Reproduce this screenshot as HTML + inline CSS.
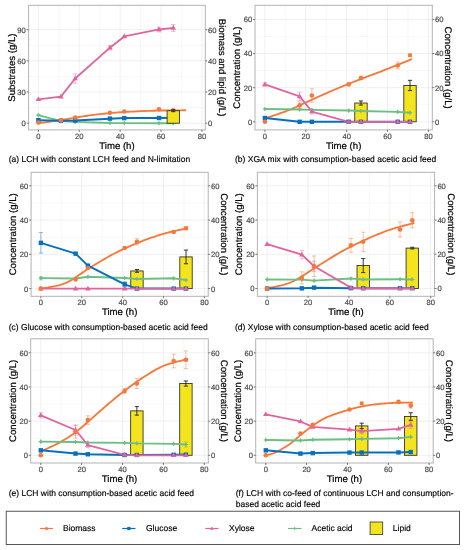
<!DOCTYPE html><html><head><meta charset="utf-8"><style>html,body{margin:0;padding:0;background:#fff;width:465px;height:550px;overflow:hidden}svg{display:block;filter:blur(0.35px)}</style></head><body><svg width="465" height="550" viewBox="0 0 465 550">
<style>text{font-family:"Liberation Sans",sans-serif;text-rendering:geometricPrecision}.tk{font-size:7.6px;fill:#4D4D4D;stroke:#4D4D4D;stroke-width:0.2px}.ti{font-size:9.6px;fill:#000;stroke:#000;stroke-width:0.2px}.cp{font-size:8.5px;fill:#000;stroke:#000;stroke-width:0.15px}</style>
<rect width="465" height="550" fill="#fff"/>
<clipPath id="ca"><rect x="28.6" y="5.3" width="176.70000000000002" height="124.60000000000001"/></clipPath>
<line x1="58.84" y1="5.3" x2="58.84" y2="129.9" stroke="#F0F0F0" stroke-width="0.5"/>
<line x1="99.71" y1="5.3" x2="99.71" y2="129.9" stroke="#F0F0F0" stroke-width="0.5"/>
<line x1="140.59" y1="5.3" x2="140.59" y2="129.9" stroke="#F0F0F0" stroke-width="0.5"/>
<line x1="181.46" y1="5.3" x2="181.46" y2="129.9" stroke="#F0F0F0" stroke-width="0.5"/>
<line x1="28.6" y1="107.62" x2="205.3" y2="107.62" stroke="#F0F0F0" stroke-width="0.5"/>
<line x1="28.6" y1="76.45" x2="205.3" y2="76.45" stroke="#F0F0F0" stroke-width="0.5"/>
<line x1="28.6" y1="45.28" x2="205.3" y2="45.28" stroke="#F0F0F0" stroke-width="0.5"/>
<line x1="38.40" y1="5.3" x2="38.40" y2="129.9" stroke="#E6E6E6" stroke-width="0.6"/>
<line x1="79.28" y1="5.3" x2="79.28" y2="129.9" stroke="#E6E6E6" stroke-width="0.6"/>
<line x1="120.15" y1="5.3" x2="120.15" y2="129.9" stroke="#E6E6E6" stroke-width="0.6"/>
<line x1="161.03" y1="5.3" x2="161.03" y2="129.9" stroke="#E6E6E6" stroke-width="0.6"/>
<line x1="201.90" y1="5.3" x2="201.90" y2="129.9" stroke="#E6E6E6" stroke-width="0.6"/>
<line x1="28.6" y1="123.20" x2="205.3" y2="123.20" stroke="#E6E6E6" stroke-width="0.6"/>
<line x1="28.6" y1="92.03" x2="205.3" y2="92.03" stroke="#E6E6E6" stroke-width="0.6"/>
<line x1="28.6" y1="60.87" x2="205.3" y2="60.87" stroke="#E6E6E6" stroke-width="0.6"/>
<line x1="28.6" y1="29.70" x2="205.3" y2="29.70" stroke="#E6E6E6" stroke-width="0.6"/>
<g clip-path="url(#ca)">
<polyline fill="none" stroke="#F7783A" stroke-width="1.85" stroke-linejoin="round" points="38.40,123.20 39.59,123.04 41.07,122.83 42.81,122.60 44.76,122.33 46.88,122.05 49.13,121.74 51.46,121.42 53.84,121.09 56.22,120.75 58.55,120.42 60.80,120.09 62.92,119.77 64.97,119.45 67.01,119.12 69.06,118.77 71.10,118.42 73.14,118.06 75.19,117.71 77.23,117.35 79.27,117.00 81.32,116.66 83.36,116.33 85.41,116.02 87.45,115.72 89.49,115.44 91.54,115.17 93.58,114.90 95.62,114.65 97.67,114.40 99.71,114.16 101.76,113.93 103.80,113.71 105.84,113.50 107.89,113.30 109.93,113.10 111.97,112.92 114.02,112.74 116.06,112.57 118.11,112.42 120.15,112.27 122.19,112.14 124.24,112.01 126.28,111.89 128.32,111.77 130.37,111.66 132.41,111.56 134.46,111.46 136.50,111.36 138.54,111.26 140.58,111.18 142.62,111.10 144.65,111.02 146.69,110.95 148.72,110.89 150.76,110.83 152.80,110.77 154.85,110.72 156.90,110.67 158.96,110.62 161.03,110.58 163.18,110.53 165.47,110.49 167.86,110.46 170.29,110.43 172.73,110.40 175.13,110.37 177.44,110.35 179.62,110.33 181.63,110.31 183.42,110.29 184.95,110.28 186.16,110.27"/>
<polyline fill="none" stroke="#6DBE82" stroke-width="1.9" stroke-linejoin="round" points="38.40,115.10 60.88,121.12 75.19,121.85 109.93,122.99 124.24,123.10 158.98,123.20 173.29,123.20"/>
<polyline fill="none" stroke="#0670BE" stroke-width="2.0" stroke-linejoin="round" points="38.40,120.19 60.88,120.81 75.19,120.50 109.93,118.63 124.24,118.11 158.98,118.01 173.29,117.80"/>
<polyline fill="none" stroke="#E2649F" stroke-width="1.8" stroke-linejoin="round" points="38.40,99.31 60.88,96.60 75.19,78.53 109.93,47.67 124.24,36.45 158.98,29.49 173.29,27.93"/>
<path d="M73.09,83.20H77.29M73.09,73.85H77.29M75.19,83.20V73.85" stroke="#E2649F" stroke-opacity="0.5" stroke-width="0.9" fill="none"/>
<path d="M107.83,50.01H112.03M107.83,45.34H112.03M109.93,50.01V45.34" stroke="#E2649F" stroke-opacity="0.5" stroke-width="0.9" fill="none"/>
<path d="M156.88,31.83H161.08M156.88,27.15H161.08M158.98,31.83V27.15" stroke="#E2649F" stroke-opacity="0.5" stroke-width="0.9" fill="none"/>
<path d="M171.19,31.36H175.39M171.19,24.51H175.39M173.29,31.36V24.51" stroke="#E2649F" stroke-opacity="0.5" stroke-width="0.9" fill="none"/>
<path d="M36.30,115.10H40.50M38.40,113.00V117.20" stroke="#6DBE82" stroke-width="1.1"/><circle cx="38.40" cy="115.10" r="1.3" fill="#6DBE82"/>
<path d="M58.78,121.12H62.98M60.88,119.02V123.22" stroke="#6DBE82" stroke-width="1.1"/><circle cx="60.88" cy="121.12" r="1.3" fill="#6DBE82"/>
<path d="M73.09,121.85H77.29M75.19,119.75V123.95" stroke="#6DBE82" stroke-width="1.1"/><circle cx="75.19" cy="121.85" r="1.3" fill="#6DBE82"/>
<path d="M107.83,122.99H112.03M109.93,120.89V125.09" stroke="#6DBE82" stroke-width="1.1"/><circle cx="109.93" cy="122.99" r="1.3" fill="#6DBE82"/>
<path d="M122.14,123.10H126.34M124.24,121.00V125.20" stroke="#6DBE82" stroke-width="1.1"/><circle cx="124.24" cy="123.10" r="1.3" fill="#6DBE82"/>
<path d="M156.88,123.20H161.08M158.98,121.10V125.30" stroke="#6DBE82" stroke-width="1.1"/><circle cx="158.98" cy="123.20" r="1.3" fill="#6DBE82"/>
<path d="M171.19,123.20H175.39M173.29,121.10V125.30" stroke="#6DBE82" stroke-width="1.1"/><circle cx="173.29" cy="123.20" r="1.3" fill="#6DBE82"/>
<rect x="36.20" y="117.99" width="4.4" height="4.4" fill="#0670BE"/>
<rect x="58.68" y="118.61" width="4.4" height="4.4" fill="#0670BE"/>
<rect x="72.99" y="118.30" width="4.4" height="4.4" fill="#0670BE"/>
<rect x="107.73" y="116.43" width="4.4" height="4.4" fill="#0670BE"/>
<rect x="122.04" y="115.91" width="4.4" height="4.4" fill="#0670BE"/>
<rect x="156.78" y="115.81" width="4.4" height="4.4" fill="#0670BE"/>
<rect x="171.09" y="115.60" width="4.4" height="4.4" fill="#0670BE"/>
<path d="M38.40,96.41L41.20,101.11L35.60,101.11Z" fill="#E2649F"/>
<path d="M60.88,93.70L63.68,98.40L58.08,98.40Z" fill="#E2649F"/>
<path d="M75.19,75.63L77.99,80.33L72.39,80.33Z" fill="#E2649F"/>
<path d="M109.93,44.77L112.73,49.47L107.13,49.47Z" fill="#E2649F"/>
<path d="M124.24,33.55L127.04,38.25L121.44,38.25Z" fill="#E2649F"/>
<path d="M158.98,26.59L161.78,31.29L156.18,31.29Z" fill="#E2649F"/>
<path d="M173.29,25.03L176.09,29.73L170.49,29.73Z" fill="#E2649F"/>
<circle cx="38.40" cy="122.58" r="2.3" fill="#F7783A"/>
<circle cx="60.88" cy="120.39" r="2.3" fill="#F7783A"/>
<circle cx="75.19" cy="117.59" r="2.3" fill="#F7783A"/>
<circle cx="109.93" cy="112.76" r="2.3" fill="#F7783A"/>
<circle cx="124.24" cy="111.51" r="2.3" fill="#F7783A"/>
<circle cx="158.98" cy="109.33" r="2.3" fill="#F7783A"/>
<circle cx="173.29" cy="110.27" r="2.3" fill="#F7783A"/>
<rect x="167.09" y="110.73" width="12.4" height="12.47" fill="#F4E41E" stroke="#2a2a2a" stroke-width="0.85"/>
<path d="M171.19,111.67H175.39M171.19,109.80H175.39M173.29,111.67V109.80" stroke="#222" stroke-width="0.9" fill="none"/>
</g>
<rect x="28.6" y="5.3" width="176.70000000000002" height="124.60000000000001" fill="none" stroke="#B3B3B3" stroke-width="1"/>
<line x1="38.40" y1="129.9" x2="38.40" y2="131.9" stroke="#555" stroke-width="0.8"/>
<text x="38.40" y="138.70" class="tk" text-anchor="middle">0</text>
<line x1="79.28" y1="129.9" x2="79.28" y2="131.9" stroke="#555" stroke-width="0.8"/>
<text x="79.28" y="138.70" class="tk" text-anchor="middle">20</text>
<line x1="120.15" y1="129.9" x2="120.15" y2="131.9" stroke="#555" stroke-width="0.8"/>
<text x="120.15" y="138.70" class="tk" text-anchor="middle">40</text>
<line x1="161.03" y1="129.9" x2="161.03" y2="131.9" stroke="#555" stroke-width="0.8"/>
<text x="161.03" y="138.70" class="tk" text-anchor="middle">60</text>
<line x1="201.90" y1="129.9" x2="201.90" y2="131.9" stroke="#555" stroke-width="0.8"/>
<text x="201.90" y="138.70" class="tk" text-anchor="middle">80</text>
<line x1="26.6" y1="123.20" x2="28.6" y2="123.20" stroke="#555" stroke-width="0.8"/>
<line x1="205.3" y1="123.20" x2="207.3" y2="123.20" stroke="#555" stroke-width="0.8"/>
<text x="25.80" y="126.10" class="tk" text-anchor="end">0</text>
<text x="208.10" y="126.10" class="tk">0</text>
<line x1="26.6" y1="92.03" x2="28.6" y2="92.03" stroke="#555" stroke-width="0.8"/>
<line x1="205.3" y1="92.03" x2="207.3" y2="92.03" stroke="#555" stroke-width="0.8"/>
<text x="25.80" y="94.93" class="tk" text-anchor="end">30</text>
<text x="208.10" y="94.93" class="tk">20</text>
<line x1="26.6" y1="60.87" x2="28.6" y2="60.87" stroke="#555" stroke-width="0.8"/>
<line x1="205.3" y1="60.87" x2="207.3" y2="60.87" stroke="#555" stroke-width="0.8"/>
<text x="25.80" y="63.77" class="tk" text-anchor="end">60</text>
<text x="208.10" y="63.77" class="tk">40</text>
<line x1="26.6" y1="29.70" x2="28.6" y2="29.70" stroke="#555" stroke-width="0.8"/>
<line x1="205.3" y1="29.70" x2="207.3" y2="29.70" stroke="#555" stroke-width="0.8"/>
<text x="25.80" y="32.60" class="tk" text-anchor="end">90</text>
<text x="208.10" y="32.60" class="tk">60</text>
<text x="116.95" y="148.80" class="ti" text-anchor="middle">Time (h)</text>
<text transform="translate(14.60,67.60) rotate(-90)" class="ti" text-anchor="middle">Substrates (g/L)</text>
<text transform="translate(218.60,67.60) rotate(90)" class="ti" text-anchor="middle">Biomass and lipid (g/L)</text>
<text x="8.75" y="162.40" class="cp">(a) LCH with constant LCH feed and N-limitation</text>
<clipPath id="cb"><rect x="255" y="5.3" width="177.3" height="124.60000000000001"/></clipPath>
<line x1="285.34" y1="5.3" x2="285.34" y2="129.9" stroke="#F0F0F0" stroke-width="0.5"/>
<line x1="326.21" y1="5.3" x2="326.21" y2="129.9" stroke="#F0F0F0" stroke-width="0.5"/>
<line x1="367.09" y1="5.3" x2="367.09" y2="129.9" stroke="#F0F0F0" stroke-width="0.5"/>
<line x1="407.96" y1="5.3" x2="407.96" y2="129.9" stroke="#F0F0F0" stroke-width="0.5"/>
<line x1="255" y1="104.73" x2="432.3" y2="104.73" stroke="#F0F0F0" stroke-width="0.5"/>
<line x1="255" y1="70.60" x2="432.3" y2="70.60" stroke="#F0F0F0" stroke-width="0.5"/>
<line x1="255" y1="36.47" x2="432.3" y2="36.47" stroke="#F0F0F0" stroke-width="0.5"/>
<line x1="264.90" y1="5.3" x2="264.90" y2="129.9" stroke="#E6E6E6" stroke-width="0.6"/>
<line x1="305.77" y1="5.3" x2="305.77" y2="129.9" stroke="#E6E6E6" stroke-width="0.6"/>
<line x1="346.65" y1="5.3" x2="346.65" y2="129.9" stroke="#E6E6E6" stroke-width="0.6"/>
<line x1="387.52" y1="5.3" x2="387.52" y2="129.9" stroke="#E6E6E6" stroke-width="0.6"/>
<line x1="428.40" y1="5.3" x2="428.40" y2="129.9" stroke="#E6E6E6" stroke-width="0.6"/>
<line x1="255" y1="121.80" x2="432.3" y2="121.80" stroke="#E6E6E6" stroke-width="0.6"/>
<line x1="255" y1="87.67" x2="432.3" y2="87.67" stroke="#E6E6E6" stroke-width="0.6"/>
<line x1="255" y1="53.53" x2="432.3" y2="53.53" stroke="#E6E6E6" stroke-width="0.6"/>
<line x1="255" y1="19.40" x2="432.3" y2="19.40" stroke="#E6E6E6" stroke-width="0.6"/>
<g clip-path="url(#cb)">
<rect x="354.76" y="103.03" width="12.4" height="18.77" fill="#F4E41E" stroke="#2a2a2a" stroke-width="0.85"/>
<rect x="403.81" y="85.45" width="12.4" height="36.35" fill="#F4E41E" stroke="#2a2a2a" stroke-width="0.85"/>
<polyline fill="none" stroke="#F7783A" stroke-width="1.85" stroke-linejoin="round" points="264.90,118.39 266.09,117.98 267.57,117.49 269.31,116.91 271.26,116.27 273.38,115.57 275.63,114.81 277.96,114.02 280.34,113.20 282.72,112.37 285.05,111.52 287.30,110.68 289.42,109.85 291.47,109.02 293.51,108.15 295.56,107.25 297.60,106.33 299.64,105.40 301.69,104.45 303.73,103.49 305.78,102.53 307.82,101.57 309.86,100.62 311.91,99.68 313.95,98.76 315.99,97.85 318.04,96.94 320.08,96.02 322.12,95.11 324.17,94.20 326.21,93.30 328.26,92.40 330.30,91.50 332.34,90.62 334.39,89.74 336.43,88.87 338.47,88.01 340.52,87.16 342.56,86.32 344.61,85.50 346.65,84.68 348.69,83.86 350.74,83.06 352.78,82.26 354.82,81.46 356.87,80.66 358.91,79.87 360.96,79.08 363.00,78.28 365.04,77.49 367.09,76.70 369.13,75.92 371.18,75.14 373.22,74.37 375.26,73.60 377.31,72.82 379.35,72.05 381.39,71.27 383.44,70.48 385.48,69.69 387.52,68.89 389.65,68.05 391.90,67.16 394.23,66.22 396.61,65.27 398.99,64.30 401.32,63.36 403.57,62.44 405.69,61.58 407.64,60.79 409.38,60.08 410.86,59.47 412.05,58.99"/>
<polyline fill="none" stroke="#6DBE82" stroke-width="1.9" stroke-linejoin="round" points="264.90,109.00 299.64,109.51 311.91,109.85 348.69,110.54 360.96,111.05 397.74,111.90 410.01,112.75"/>
<polyline fill="none" stroke="#0670BE" stroke-width="2.0" stroke-linejoin="round" points="264.90,118.05 299.64,121.80 311.91,121.80 348.69,121.80 360.96,121.80 397.74,121.80 410.01,121.80"/>
<polyline fill="none" stroke="#E2649F" stroke-width="1.8" stroke-linejoin="round" points="264.90,84.42 299.64,96.37 311.91,111.56 348.69,121.80 360.96,121.80 397.74,121.80 410.01,121.80"/>
<path d="M262.80,86.13H267.00M262.80,82.72H267.00M264.90,86.13V82.72" stroke="#E2649F" stroke-opacity="0.5" stroke-width="0.9" fill="none"/>
<path d="M297.54,100.64H301.74M297.54,92.10H301.74M299.64,100.64V92.10" stroke="#E2649F" stroke-opacity="0.5" stroke-width="0.9" fill="none"/>
<path d="M309.81,114.12H314.01M309.81,109.00H314.01M311.91,114.12V109.00" stroke="#E2649F" stroke-opacity="0.5" stroke-width="0.9" fill="none"/>
<path d="M297.54,108.83H301.74M297.54,102.00H301.74M299.64,108.83V102.00" stroke="#F7783A" stroke-opacity="0.5" stroke-width="0.9" fill="none"/>
<path d="M309.81,102.34H314.01M309.81,88.69H314.01M311.91,102.34V88.69" stroke="#F7783A" stroke-opacity="0.5" stroke-width="0.9" fill="none"/>
<path d="M358.86,79.65H363.06M358.86,76.23H363.06M360.96,79.65V76.23" stroke="#F7783A" stroke-opacity="0.5" stroke-width="0.9" fill="none"/>
<path d="M395.64,68.89H399.84M395.64,62.07H399.84M397.74,68.89V62.07" stroke="#F7783A" stroke-opacity="0.5" stroke-width="0.9" fill="none"/>
<path d="M262.80,109.00H267.00M264.90,106.90V111.10" stroke="#6DBE82" stroke-width="1.1"/><circle cx="264.90" cy="109.00" r="1.3" fill="#6DBE82"/>
<path d="M297.54,109.51H301.74M299.64,107.41V111.61" stroke="#6DBE82" stroke-width="1.1"/><circle cx="299.64" cy="109.51" r="1.3" fill="#6DBE82"/>
<path d="M309.81,109.85H314.01M311.91,107.75V111.95" stroke="#6DBE82" stroke-width="1.1"/><circle cx="311.91" cy="109.85" r="1.3" fill="#6DBE82"/>
<path d="M346.59,110.54H350.79M348.69,108.44V112.64" stroke="#6DBE82" stroke-width="1.1"/><circle cx="348.69" cy="110.54" r="1.3" fill="#6DBE82"/>
<path d="M358.86,111.05H363.06M360.96,108.95V113.15" stroke="#6DBE82" stroke-width="1.1"/><circle cx="360.96" cy="111.05" r="1.3" fill="#6DBE82"/>
<path d="M395.64,111.90H399.84M397.74,109.80V114.00" stroke="#6DBE82" stroke-width="1.1"/><circle cx="397.74" cy="111.90" r="1.3" fill="#6DBE82"/>
<path d="M407.91,112.75H412.11M410.01,110.65V114.85" stroke="#6DBE82" stroke-width="1.1"/><circle cx="410.01" cy="112.75" r="1.3" fill="#6DBE82"/>
<rect x="262.70" y="115.85" width="4.4" height="4.4" fill="#0670BE"/>
<rect x="297.44" y="119.60" width="4.4" height="4.4" fill="#0670BE"/>
<rect x="309.71" y="119.60" width="4.4" height="4.4" fill="#0670BE"/>
<rect x="346.49" y="119.60" width="4.4" height="4.4" fill="#0670BE"/>
<rect x="358.76" y="119.60" width="4.4" height="4.4" fill="#0670BE"/>
<rect x="395.54" y="119.60" width="4.4" height="4.4" fill="#0670BE"/>
<rect x="407.81" y="119.60" width="4.4" height="4.4" fill="#0670BE"/>
<path d="M264.90,81.52L267.70,86.22L262.10,86.22Z" fill="#E2649F"/>
<path d="M299.64,93.47L302.44,98.17L296.84,98.17Z" fill="#E2649F"/>
<path d="M311.91,108.66L314.71,113.36L309.11,113.36Z" fill="#E2649F"/>
<path d="M348.69,118.90L351.49,123.60L345.89,123.60Z" fill="#E2649F"/>
<path d="M360.96,118.90L363.76,123.60L358.16,123.60Z" fill="#E2649F"/>
<path d="M397.74,118.90L400.54,123.60L394.94,123.60Z" fill="#E2649F"/>
<path d="M410.01,118.90L412.81,123.60L407.21,123.60Z" fill="#E2649F"/>
<circle cx="264.90" cy="121.80" r="2.3" fill="#F7783A"/>
<circle cx="299.64" cy="105.42" r="2.3" fill="#F7783A"/>
<circle cx="311.91" cy="95.52" r="2.3" fill="#F7783A"/>
<circle cx="348.69" cy="84.42" r="2.3" fill="#F7783A"/>
<circle cx="360.96" cy="77.94" r="2.3" fill="#F7783A"/>
<circle cx="397.74" cy="65.48" r="2.3" fill="#F7783A"/>
<rect x="408.11" y="53.34" width="3.8" height="3.8" fill="#F7783A"/>
<path d="M358.86,105.07H363.06M358.86,100.98H363.06M360.96,105.07V100.98" stroke="#222" stroke-width="0.9" fill="none"/>
<path d="M407.91,90.57H412.11M407.91,80.33H412.11M410.01,90.57V80.33" stroke="#222" stroke-width="0.9" fill="none"/>
</g>
<rect x="255" y="5.3" width="177.3" height="124.60000000000001" fill="none" stroke="#B3B3B3" stroke-width="1"/>
<line x1="264.90" y1="129.9" x2="264.90" y2="131.9" stroke="#555" stroke-width="0.8"/>
<text x="264.90" y="138.70" class="tk" text-anchor="middle">0</text>
<line x1="305.77" y1="129.9" x2="305.77" y2="131.9" stroke="#555" stroke-width="0.8"/>
<text x="305.77" y="138.70" class="tk" text-anchor="middle">20</text>
<line x1="346.65" y1="129.9" x2="346.65" y2="131.9" stroke="#555" stroke-width="0.8"/>
<text x="346.65" y="138.70" class="tk" text-anchor="middle">40</text>
<line x1="387.52" y1="129.9" x2="387.52" y2="131.9" stroke="#555" stroke-width="0.8"/>
<text x="387.52" y="138.70" class="tk" text-anchor="middle">60</text>
<line x1="428.40" y1="129.9" x2="428.40" y2="131.9" stroke="#555" stroke-width="0.8"/>
<text x="428.40" y="138.70" class="tk" text-anchor="middle">80</text>
<line x1="253" y1="121.80" x2="255" y2="121.80" stroke="#555" stroke-width="0.8"/>
<line x1="432.3" y1="121.80" x2="434.3" y2="121.80" stroke="#555" stroke-width="0.8"/>
<text x="252.20" y="124.70" class="tk" text-anchor="end">0</text>
<text x="435.10" y="124.70" class="tk">0</text>
<line x1="253" y1="87.67" x2="255" y2="87.67" stroke="#555" stroke-width="0.8"/>
<line x1="432.3" y1="87.67" x2="434.3" y2="87.67" stroke="#555" stroke-width="0.8"/>
<text x="252.20" y="90.57" class="tk" text-anchor="end">20</text>
<text x="435.10" y="90.57" class="tk">20</text>
<line x1="253" y1="53.53" x2="255" y2="53.53" stroke="#555" stroke-width="0.8"/>
<line x1="432.3" y1="53.53" x2="434.3" y2="53.53" stroke="#555" stroke-width="0.8"/>
<text x="252.20" y="56.43" class="tk" text-anchor="end">40</text>
<text x="435.10" y="56.43" class="tk">40</text>
<line x1="253" y1="19.40" x2="255" y2="19.40" stroke="#555" stroke-width="0.8"/>
<line x1="432.3" y1="19.40" x2="434.3" y2="19.40" stroke="#555" stroke-width="0.8"/>
<text x="252.20" y="22.30" class="tk" text-anchor="end">60</text>
<text x="435.10" y="22.30" class="tk">60</text>
<text x="343.65" y="148.80" class="ti" text-anchor="middle">Time (h)</text>
<text transform="translate(240.10,67.60) rotate(-90)" class="ti" text-anchor="middle">Concentration (g/L)</text>
<text transform="translate(445.20,67.60) rotate(90)" class="ti" text-anchor="middle">Concentration (g/L)</text>
<text x="235" y="162.40" class="cp">(b) XGA mix with consumption-based acetic acid feed</text>
<clipPath id="cc"><rect x="31.1" y="172.3" width="177.1" height="124.0"/></clipPath>
<line x1="61.34" y1="172.3" x2="61.34" y2="296.3" stroke="#F0F0F0" stroke-width="0.5"/>
<line x1="102.21" y1="172.3" x2="102.21" y2="296.3" stroke="#F0F0F0" stroke-width="0.5"/>
<line x1="143.09" y1="172.3" x2="143.09" y2="296.3" stroke="#F0F0F0" stroke-width="0.5"/>
<line x1="183.96" y1="172.3" x2="183.96" y2="296.3" stroke="#F0F0F0" stroke-width="0.5"/>
<line x1="31.1" y1="271.47" x2="208.2" y2="271.47" stroke="#F0F0F0" stroke-width="0.5"/>
<line x1="31.1" y1="237.20" x2="208.2" y2="237.20" stroke="#F0F0F0" stroke-width="0.5"/>
<line x1="31.1" y1="202.93" x2="208.2" y2="202.93" stroke="#F0F0F0" stroke-width="0.5"/>
<line x1="40.90" y1="172.3" x2="40.90" y2="296.3" stroke="#E6E6E6" stroke-width="0.6"/>
<line x1="81.78" y1="172.3" x2="81.78" y2="296.3" stroke="#E6E6E6" stroke-width="0.6"/>
<line x1="122.65" y1="172.3" x2="122.65" y2="296.3" stroke="#E6E6E6" stroke-width="0.6"/>
<line x1="163.53" y1="172.3" x2="163.53" y2="296.3" stroke="#E6E6E6" stroke-width="0.6"/>
<line x1="204.40" y1="172.3" x2="204.40" y2="296.3" stroke="#E6E6E6" stroke-width="0.6"/>
<line x1="31.1" y1="288.60" x2="208.2" y2="288.60" stroke="#E6E6E6" stroke-width="0.6"/>
<line x1="31.1" y1="254.33" x2="208.2" y2="254.33" stroke="#E6E6E6" stroke-width="0.6"/>
<line x1="31.1" y1="220.07" x2="208.2" y2="220.07" stroke="#E6E6E6" stroke-width="0.6"/>
<line x1="31.1" y1="185.80" x2="208.2" y2="185.80" stroke="#E6E6E6" stroke-width="0.6"/>
<g clip-path="url(#cc)">
<rect x="130.76" y="270.95" width="12.4" height="17.65" fill="#F4E41E" stroke="#2a2a2a" stroke-width="0.85"/>
<rect x="179.81" y="256.90" width="12.4" height="31.70" fill="#F4E41E" stroke="#2a2a2a" stroke-width="0.85"/>
<polyline fill="none" stroke="#F7783A" stroke-width="1.85" stroke-linejoin="round" points="40.90,288.60 42.09,288.37 43.57,288.12 45.31,287.85 47.26,287.55 49.38,287.21 51.63,286.82 53.96,286.38 56.34,285.88 58.72,285.32 61.05,284.67 63.30,283.94 65.42,283.12 67.47,282.18 69.51,281.11 71.56,279.93 73.60,278.67 75.64,277.34 77.69,275.95 79.73,274.54 81.77,273.12 83.82,271.70 85.86,270.31 87.91,268.97 89.95,267.70 91.99,266.46 94.04,265.22 96.08,263.99 98.12,262.75 100.17,261.53 102.21,260.32 104.26,259.12 106.30,257.94 108.34,256.79 110.39,255.65 112.43,254.55 114.47,253.48 116.52,252.43 118.56,251.41 120.61,250.42 122.65,249.44 124.69,248.49 126.74,247.55 128.78,246.64 130.82,245.75 132.87,244.87 134.91,244.01 136.96,243.17 139.00,242.34 141.04,241.53 143.09,240.73 145.13,239.95 147.18,239.19 149.22,238.44 151.26,237.71 153.31,237.01 155.35,236.32 157.39,235.65 159.44,235.00 161.48,234.38 163.53,233.77 165.65,233.18 167.90,232.60 170.23,232.02 172.61,231.46 174.99,230.92 177.32,230.41 179.57,229.93 181.69,229.48 183.64,229.07 185.38,228.70 186.86,228.38 188.05,228.12"/>
<polyline fill="none" stroke="#6DBE82" stroke-width="1.9" stroke-linejoin="round" points="40.90,278.15 75.64,278.49 87.91,276.78 124.69,277.98 136.96,279.01 173.74,278.32 186.01,280.03"/>
<polyline fill="none" stroke="#0670BE" stroke-width="2.0" stroke-linejoin="round" points="40.90,242.85 75.64,253.65 87.91,265.64 124.69,284.32 136.96,288.60 173.74,288.60 186.01,288.60"/>
<polyline fill="none" stroke="#E2649F" stroke-width="1.8" stroke-linejoin="round" points="40.90,288.60 75.64,288.60 87.91,288.60 124.69,288.60 136.96,288.60 173.74,288.60 186.01,288.60"/>
<path d="M38.80,279.86H43.00M38.80,276.44H43.00M40.90,279.86V276.44" stroke="#6DBE82" stroke-opacity="0.5" stroke-width="0.9" fill="none"/>
<path d="M38.80,253.13H43.00M38.80,232.57H43.00M40.90,253.13V232.57" stroke="#0670BE" stroke-opacity="0.5" stroke-width="0.9" fill="none"/>
<path d="M122.59,286.89H126.79M122.59,281.75H126.79M124.69,286.89V281.75" stroke="#0670BE" stroke-opacity="0.5" stroke-width="0.9" fill="none"/>
<path d="M134.86,244.91H139.06M134.86,238.74H139.06M136.96,244.91V238.74" stroke="#F7783A" stroke-opacity="0.5" stroke-width="0.9" fill="none"/>
<path d="M183.91,230.00H188.11M183.91,226.58H188.11M186.01,230.00V226.58" stroke="#F7783A" stroke-opacity="0.5" stroke-width="0.9" fill="none"/>
<path d="M38.80,278.15H43.00M40.90,276.05V280.25" stroke="#6DBE82" stroke-width="1.1"/><circle cx="40.90" cy="278.15" r="1.3" fill="#6DBE82"/>
<path d="M73.54,278.49H77.74M75.64,276.39V280.59" stroke="#6DBE82" stroke-width="1.1"/><circle cx="75.64" cy="278.49" r="1.3" fill="#6DBE82"/>
<path d="M85.81,276.78H90.01M87.91,274.68V278.88" stroke="#6DBE82" stroke-width="1.1"/><circle cx="87.91" cy="276.78" r="1.3" fill="#6DBE82"/>
<path d="M122.59,277.98H126.79M124.69,275.88V280.08" stroke="#6DBE82" stroke-width="1.1"/><circle cx="124.69" cy="277.98" r="1.3" fill="#6DBE82"/>
<path d="M134.86,279.01H139.06M136.96,276.91V281.11" stroke="#6DBE82" stroke-width="1.1"/><circle cx="136.96" cy="279.01" r="1.3" fill="#6DBE82"/>
<path d="M171.64,278.32H175.84M173.74,276.22V280.42" stroke="#6DBE82" stroke-width="1.1"/><circle cx="173.74" cy="278.32" r="1.3" fill="#6DBE82"/>
<path d="M183.91,280.03H188.11M186.01,277.93V282.13" stroke="#6DBE82" stroke-width="1.1"/><circle cx="186.01" cy="280.03" r="1.3" fill="#6DBE82"/>
<rect x="38.70" y="240.65" width="4.4" height="4.4" fill="#0670BE"/>
<rect x="73.44" y="251.45" width="4.4" height="4.4" fill="#0670BE"/>
<rect x="85.71" y="263.44" width="4.4" height="4.4" fill="#0670BE"/>
<rect x="122.49" y="282.12" width="4.4" height="4.4" fill="#0670BE"/>
<rect x="134.76" y="286.40" width="4.4" height="4.4" fill="#0670BE"/>
<rect x="171.54" y="286.40" width="4.4" height="4.4" fill="#0670BE"/>
<rect x="183.81" y="286.40" width="4.4" height="4.4" fill="#0670BE"/>
<path d="M40.90,285.70L43.70,290.40L38.10,290.40Z" fill="#E2649F"/>
<path d="M75.64,285.70L78.44,290.40L72.84,290.40Z" fill="#E2649F"/>
<path d="M87.91,285.70L90.71,290.40L85.11,290.40Z" fill="#E2649F"/>
<path d="M124.69,285.70L127.49,290.40L121.89,290.40Z" fill="#E2649F"/>
<path d="M136.96,285.70L139.76,290.40L134.16,290.40Z" fill="#E2649F"/>
<path d="M173.74,285.70L176.54,290.40L170.94,290.40Z" fill="#E2649F"/>
<path d="M186.01,285.70L188.81,290.40L183.21,290.40Z" fill="#E2649F"/>
<circle cx="40.90" cy="288.60" r="2.3" fill="#F7783A"/>
<circle cx="75.64" cy="279.52" r="2.3" fill="#F7783A"/>
<circle cx="87.91" cy="268.04" r="2.3" fill="#F7783A"/>
<circle cx="124.69" cy="247.99" r="2.3" fill="#F7783A"/>
<circle cx="136.96" cy="241.83" r="2.3" fill="#F7783A"/>
<circle cx="173.74" cy="232.06" r="2.3" fill="#F7783A"/>
<rect x="184.11" y="226.39" width="3.8" height="3.8" fill="#F7783A"/>
<path d="M134.86,272.32H139.06M134.86,269.58H139.06M136.96,272.32V269.58" stroke="#222" stroke-width="0.9" fill="none"/>
<path d="M183.91,263.76H188.11M183.91,250.05H188.11M186.01,263.76V250.05" stroke="#222" stroke-width="0.9" fill="none"/>
</g>
<rect x="31.1" y="172.3" width="177.1" height="124.0" fill="none" stroke="#B3B3B3" stroke-width="1"/>
<line x1="40.90" y1="296.3" x2="40.90" y2="298.3" stroke="#555" stroke-width="0.8"/>
<text x="40.90" y="305.10" class="tk" text-anchor="middle">0</text>
<line x1="81.78" y1="296.3" x2="81.78" y2="298.3" stroke="#555" stroke-width="0.8"/>
<text x="81.78" y="305.10" class="tk" text-anchor="middle">20</text>
<line x1="122.65" y1="296.3" x2="122.65" y2="298.3" stroke="#555" stroke-width="0.8"/>
<text x="122.65" y="305.10" class="tk" text-anchor="middle">40</text>
<line x1="163.53" y1="296.3" x2="163.53" y2="298.3" stroke="#555" stroke-width="0.8"/>
<text x="163.53" y="305.10" class="tk" text-anchor="middle">60</text>
<line x1="204.40" y1="296.3" x2="204.40" y2="298.3" stroke="#555" stroke-width="0.8"/>
<text x="204.40" y="305.10" class="tk" text-anchor="middle">80</text>
<line x1="29.1" y1="288.60" x2="31.1" y2="288.60" stroke="#555" stroke-width="0.8"/>
<line x1="208.2" y1="288.60" x2="210.2" y2="288.60" stroke="#555" stroke-width="0.8"/>
<text x="28.30" y="291.50" class="tk" text-anchor="end">0</text>
<text x="211.00" y="291.50" class="tk">0</text>
<line x1="29.1" y1="254.33" x2="31.1" y2="254.33" stroke="#555" stroke-width="0.8"/>
<line x1="208.2" y1="254.33" x2="210.2" y2="254.33" stroke="#555" stroke-width="0.8"/>
<text x="28.30" y="257.23" class="tk" text-anchor="end">20</text>
<text x="211.00" y="257.23" class="tk">20</text>
<line x1="29.1" y1="220.07" x2="31.1" y2="220.07" stroke="#555" stroke-width="0.8"/>
<line x1="208.2" y1="220.07" x2="210.2" y2="220.07" stroke="#555" stroke-width="0.8"/>
<text x="28.30" y="222.97" class="tk" text-anchor="end">40</text>
<text x="211.00" y="222.97" class="tk">40</text>
<line x1="29.1" y1="185.80" x2="31.1" y2="185.80" stroke="#555" stroke-width="0.8"/>
<line x1="208.2" y1="185.80" x2="210.2" y2="185.80" stroke="#555" stroke-width="0.8"/>
<text x="28.30" y="188.70" class="tk" text-anchor="end">60</text>
<text x="211.00" y="188.70" class="tk">60</text>
<text x="119.65" y="315.20" class="ti" text-anchor="middle">Time (h)</text>
<text transform="translate(16.20,234.30) rotate(-90)" class="ti" text-anchor="middle">Concentration (g/L)</text>
<text transform="translate(221.10,234.30) rotate(90)" class="ti" text-anchor="middle">Concentration (g/L)</text>
<text x="8.75" y="330.10" class="cp">(c) Glucose with consumption-based acetic acid feed</text>
<clipPath id="cd"><rect x="257.4" y="172.3" width="177.20000000000005" height="124.0"/></clipPath>
<line x1="287.55" y1="172.3" x2="287.55" y2="296.3" stroke="#F0F0F0" stroke-width="0.5"/>
<line x1="328.45" y1="172.3" x2="328.45" y2="296.3" stroke="#F0F0F0" stroke-width="0.5"/>
<line x1="369.35" y1="172.3" x2="369.35" y2="296.3" stroke="#F0F0F0" stroke-width="0.5"/>
<line x1="410.25" y1="172.3" x2="410.25" y2="296.3" stroke="#F0F0F0" stroke-width="0.5"/>
<line x1="257.4" y1="271.38" x2="434.6" y2="271.38" stroke="#F0F0F0" stroke-width="0.5"/>
<line x1="257.4" y1="237.15" x2="434.6" y2="237.15" stroke="#F0F0F0" stroke-width="0.5"/>
<line x1="257.4" y1="202.92" x2="434.6" y2="202.92" stroke="#F0F0F0" stroke-width="0.5"/>
<line x1="267.10" y1="172.3" x2="267.10" y2="296.3" stroke="#E6E6E6" stroke-width="0.6"/>
<line x1="308.00" y1="172.3" x2="308.00" y2="296.3" stroke="#E6E6E6" stroke-width="0.6"/>
<line x1="348.90" y1="172.3" x2="348.90" y2="296.3" stroke="#E6E6E6" stroke-width="0.6"/>
<line x1="389.80" y1="172.3" x2="389.80" y2="296.3" stroke="#E6E6E6" stroke-width="0.6"/>
<line x1="430.70" y1="172.3" x2="430.70" y2="296.3" stroke="#E6E6E6" stroke-width="0.6"/>
<line x1="257.4" y1="288.50" x2="434.6" y2="288.50" stroke="#E6E6E6" stroke-width="0.6"/>
<line x1="257.4" y1="254.27" x2="434.6" y2="254.27" stroke="#E6E6E6" stroke-width="0.6"/>
<line x1="257.4" y1="220.03" x2="434.6" y2="220.03" stroke="#E6E6E6" stroke-width="0.6"/>
<line x1="257.4" y1="185.80" x2="434.6" y2="185.80" stroke="#E6E6E6" stroke-width="0.6"/>
<g clip-path="url(#cd)">
<rect x="357.02" y="265.56" width="12.4" height="22.94" fill="#F4E41E" stroke="#2a2a2a" stroke-width="0.85"/>
<rect x="406.09" y="248.10" width="12.4" height="40.40" fill="#F4E41E" stroke="#2a2a2a" stroke-width="0.85"/>
<polyline fill="none" stroke="#F7783A" stroke-width="1.85" stroke-linejoin="round" points="267.10,288.50 268.29,288.21 269.77,287.89 271.51,287.53 273.46,287.12 275.59,286.68 277.84,286.18 280.17,285.63 282.55,285.03 284.93,284.36 287.27,283.64 289.52,282.85 291.64,282.00 293.69,281.05 295.73,280.00 297.78,278.87 299.82,277.66 301.87,276.39 303.91,275.08 305.95,273.75 308.00,272.39 310.04,271.04 312.09,269.69 314.13,268.38 316.18,267.10 318.23,265.85 320.27,264.57 322.31,263.29 324.36,261.99 326.41,260.70 328.45,259.41 330.50,258.13 332.54,256.87 334.58,255.62 336.63,254.40 338.67,253.20 340.72,252.04 342.77,250.91 344.81,249.80 346.86,248.71 348.90,247.64 350.95,246.59 352.99,245.56 355.03,244.54 357.08,243.55 359.12,242.57 361.17,241.60 363.21,240.65 365.26,239.72 367.31,238.80 369.35,237.89 371.39,236.99 373.44,236.12 375.49,235.26 377.53,234.41 379.58,233.59 381.62,232.78 383.66,232.00 385.71,231.24 387.75,230.50 389.80,229.79 391.92,229.09 394.17,228.39 396.51,227.70 398.89,227.03 401.27,226.37 403.60,225.75 405.85,225.15 407.98,224.60 409.93,224.10 411.67,223.65 413.15,223.26 414.34,222.94"/>
<polyline fill="none" stroke="#6DBE82" stroke-width="1.9" stroke-linejoin="round" points="267.10,279.43 301.87,279.60 314.13,280.63 350.94,278.57 363.22,279.43 400.02,279.26 412.29,279.43"/>
<polyline fill="none" stroke="#0670BE" stroke-width="2.0" stroke-linejoin="round" points="267.10,288.50 301.87,288.33 314.13,287.64 350.94,288.16 363.22,288.16 400.02,288.16 412.29,288.16"/>
<polyline fill="none" stroke="#E2649F" stroke-width="1.8" stroke-linejoin="round" points="267.10,244.17 301.87,254.61 314.13,266.25 350.94,287.64 363.22,288.50 400.02,288.50 412.29,288.50"/>
<path d="M299.76,258.89H303.97M299.76,250.33H303.97M301.87,258.89V250.33" stroke="#E2649F" stroke-opacity="0.5" stroke-width="0.9" fill="none"/>
<path d="M312.03,271.38H316.24M312.03,261.11H316.24M314.13,271.38V261.11" stroke="#E2649F" stroke-opacity="0.5" stroke-width="0.9" fill="none"/>
<path d="M299.76,283.88H303.97M299.76,271.90H303.97M301.87,283.88V271.90" stroke="#F7783A" stroke-opacity="0.5" stroke-width="0.9" fill="none"/>
<path d="M312.03,276.52H316.24M312.03,255.98H316.24M314.13,276.52V255.98" stroke="#F7783A" stroke-opacity="0.5" stroke-width="0.9" fill="none"/>
<path d="M348.84,252.21H353.05M348.84,238.52H353.05M350.94,252.21V238.52" stroke="#F7783A" stroke-opacity="0.5" stroke-width="0.9" fill="none"/>
<path d="M361.12,251.36H365.32M361.12,232.19H365.32M363.22,251.36V232.19" stroke="#F7783A" stroke-opacity="0.5" stroke-width="0.9" fill="none"/>
<path d="M397.92,236.98H402.12M397.92,221.92H402.12M400.02,236.98V221.92" stroke="#F7783A" stroke-opacity="0.5" stroke-width="0.9" fill="none"/>
<path d="M410.19,227.74H414.39M410.19,212.67H414.39M412.29,227.74V212.67" stroke="#F7783A" stroke-opacity="0.5" stroke-width="0.9" fill="none"/>
<path d="M265.00,279.43H269.20M267.10,277.33V281.53" stroke="#6DBE82" stroke-width="1.1"/><circle cx="267.10" cy="279.43" r="1.3" fill="#6DBE82"/>
<path d="M299.76,279.60H303.97M301.87,277.50V281.70" stroke="#6DBE82" stroke-width="1.1"/><circle cx="301.87" cy="279.60" r="1.3" fill="#6DBE82"/>
<path d="M312.03,280.63H316.24M314.13,278.53V282.73" stroke="#6DBE82" stroke-width="1.1"/><circle cx="314.13" cy="280.63" r="1.3" fill="#6DBE82"/>
<path d="M348.84,278.57H353.05M350.94,276.47V280.67" stroke="#6DBE82" stroke-width="1.1"/><circle cx="350.94" cy="278.57" r="1.3" fill="#6DBE82"/>
<path d="M361.12,279.43H365.32M363.22,277.33V281.53" stroke="#6DBE82" stroke-width="1.1"/><circle cx="363.22" cy="279.43" r="1.3" fill="#6DBE82"/>
<path d="M397.92,279.26H402.12M400.02,277.16V281.36" stroke="#6DBE82" stroke-width="1.1"/><circle cx="400.02" cy="279.26" r="1.3" fill="#6DBE82"/>
<path d="M410.19,279.43H414.39M412.29,277.33V281.53" stroke="#6DBE82" stroke-width="1.1"/><circle cx="412.29" cy="279.43" r="1.3" fill="#6DBE82"/>
<rect x="264.90" y="286.30" width="4.4" height="4.4" fill="#0670BE"/>
<rect x="299.67" y="286.13" width="4.4" height="4.4" fill="#0670BE"/>
<rect x="311.94" y="285.44" width="4.4" height="4.4" fill="#0670BE"/>
<rect x="348.75" y="285.96" width="4.4" height="4.4" fill="#0670BE"/>
<rect x="361.02" y="285.96" width="4.4" height="4.4" fill="#0670BE"/>
<rect x="397.82" y="285.96" width="4.4" height="4.4" fill="#0670BE"/>
<rect x="410.09" y="285.96" width="4.4" height="4.4" fill="#0670BE"/>
<path d="M267.10,241.27L269.90,245.97L264.30,245.97Z" fill="#E2649F"/>
<path d="M301.87,251.71L304.67,256.41L299.06,256.41Z" fill="#E2649F"/>
<path d="M314.13,263.35L316.94,268.05L311.33,268.05Z" fill="#E2649F"/>
<path d="M350.94,284.74L353.75,289.44L348.14,289.44Z" fill="#E2649F"/>
<path d="M363.22,285.60L366.02,290.30L360.42,290.30Z" fill="#E2649F"/>
<path d="M400.02,285.60L402.82,290.30L397.22,290.30Z" fill="#E2649F"/>
<path d="M412.29,285.60L415.09,290.30L409.49,290.30Z" fill="#E2649F"/>
<circle cx="267.10" cy="288.50" r="2.3" fill="#F7783A"/>
<circle cx="301.87" cy="277.89" r="2.3" fill="#F7783A"/>
<circle cx="314.13" cy="266.25" r="2.3" fill="#F7783A"/>
<circle cx="350.94" cy="245.37" r="2.3" fill="#F7783A"/>
<circle cx="363.22" cy="241.77" r="2.3" fill="#F7783A"/>
<circle cx="400.02" cy="229.45" r="2.3" fill="#F7783A"/>
<circle cx="412.29" cy="220.20" r="2.3" fill="#F7783A"/>
<path d="M361.12,272.58H365.32M361.12,258.55H365.32M363.22,272.58V258.55" stroke="#222" stroke-width="0.9" fill="none"/>
<path d="M410.19,248.96H414.39M410.19,247.25H414.39M412.29,248.96V247.25" stroke="#222" stroke-width="0.9" fill="none"/>
</g>
<rect x="257.4" y="172.3" width="177.20000000000005" height="124.0" fill="none" stroke="#B3B3B3" stroke-width="1"/>
<line x1="267.10" y1="296.3" x2="267.10" y2="298.3" stroke="#555" stroke-width="0.8"/>
<text x="267.10" y="305.10" class="tk" text-anchor="middle">0</text>
<line x1="308.00" y1="296.3" x2="308.00" y2="298.3" stroke="#555" stroke-width="0.8"/>
<text x="308.00" y="305.10" class="tk" text-anchor="middle">20</text>
<line x1="348.90" y1="296.3" x2="348.90" y2="298.3" stroke="#555" stroke-width="0.8"/>
<text x="348.90" y="305.10" class="tk" text-anchor="middle">40</text>
<line x1="389.80" y1="296.3" x2="389.80" y2="298.3" stroke="#555" stroke-width="0.8"/>
<text x="389.80" y="305.10" class="tk" text-anchor="middle">60</text>
<line x1="430.70" y1="296.3" x2="430.70" y2="298.3" stroke="#555" stroke-width="0.8"/>
<text x="430.70" y="305.10" class="tk" text-anchor="middle">80</text>
<line x1="255.39999999999998" y1="288.50" x2="257.4" y2="288.50" stroke="#555" stroke-width="0.8"/>
<line x1="434.6" y1="288.50" x2="436.6" y2="288.50" stroke="#555" stroke-width="0.8"/>
<text x="254.60" y="291.40" class="tk" text-anchor="end">0</text>
<text x="437.40" y="291.40" class="tk">0</text>
<line x1="255.39999999999998" y1="254.27" x2="257.4" y2="254.27" stroke="#555" stroke-width="0.8"/>
<line x1="434.6" y1="254.27" x2="436.6" y2="254.27" stroke="#555" stroke-width="0.8"/>
<text x="254.60" y="257.17" class="tk" text-anchor="end">20</text>
<text x="437.40" y="257.17" class="tk">20</text>
<line x1="255.39999999999998" y1="220.03" x2="257.4" y2="220.03" stroke="#555" stroke-width="0.8"/>
<line x1="434.6" y1="220.03" x2="436.6" y2="220.03" stroke="#555" stroke-width="0.8"/>
<text x="254.60" y="222.93" class="tk" text-anchor="end">40</text>
<text x="437.40" y="222.93" class="tk">40</text>
<line x1="255.39999999999998" y1="185.80" x2="257.4" y2="185.80" stroke="#555" stroke-width="0.8"/>
<line x1="434.6" y1="185.80" x2="436.6" y2="185.80" stroke="#555" stroke-width="0.8"/>
<text x="254.60" y="188.70" class="tk" text-anchor="end">60</text>
<text x="437.40" y="188.70" class="tk">60</text>
<text x="346.00" y="315.20" class="ti" text-anchor="middle">Time (h)</text>
<text transform="translate(242.00,234.30) rotate(-90)" class="ti" text-anchor="middle">Concentration (g/L)</text>
<text transform="translate(447.50,234.30) rotate(90)" class="ti" text-anchor="middle">Concentration (g/L)</text>
<text x="235" y="330.10" class="cp">(d) Xylose with consumption-based acetic acid feed</text>
<clipPath id="ce"><rect x="30.7" y="338.8" width="177.60000000000002" height="124.19999999999999"/></clipPath>
<line x1="61.24" y1="338.8" x2="61.24" y2="463.0" stroke="#F0F0F0" stroke-width="0.5"/>
<line x1="102.11" y1="338.8" x2="102.11" y2="463.0" stroke="#F0F0F0" stroke-width="0.5"/>
<line x1="142.99" y1="338.8" x2="142.99" y2="463.0" stroke="#F0F0F0" stroke-width="0.5"/>
<line x1="183.86" y1="338.8" x2="183.86" y2="463.0" stroke="#F0F0F0" stroke-width="0.5"/>
<line x1="30.7" y1="438.22" x2="208.3" y2="438.22" stroke="#F0F0F0" stroke-width="0.5"/>
<line x1="30.7" y1="404.05" x2="208.3" y2="404.05" stroke="#F0F0F0" stroke-width="0.5"/>
<line x1="30.7" y1="369.88" x2="208.3" y2="369.88" stroke="#F0F0F0" stroke-width="0.5"/>
<line x1="40.80" y1="338.8" x2="40.80" y2="463.0" stroke="#E6E6E6" stroke-width="0.6"/>
<line x1="81.67" y1="338.8" x2="81.67" y2="463.0" stroke="#E6E6E6" stroke-width="0.6"/>
<line x1="122.55" y1="338.8" x2="122.55" y2="463.0" stroke="#E6E6E6" stroke-width="0.6"/>
<line x1="163.43" y1="338.8" x2="163.43" y2="463.0" stroke="#E6E6E6" stroke-width="0.6"/>
<line x1="204.30" y1="338.8" x2="204.30" y2="463.0" stroke="#E6E6E6" stroke-width="0.6"/>
<line x1="30.7" y1="455.30" x2="208.3" y2="455.30" stroke="#E6E6E6" stroke-width="0.6"/>
<line x1="30.7" y1="421.13" x2="208.3" y2="421.13" stroke="#E6E6E6" stroke-width="0.6"/>
<line x1="30.7" y1="386.97" x2="208.3" y2="386.97" stroke="#E6E6E6" stroke-width="0.6"/>
<line x1="30.7" y1="352.80" x2="208.3" y2="352.80" stroke="#E6E6E6" stroke-width="0.6"/>
<g clip-path="url(#ce)">
<rect x="130.66" y="410.88" width="12.4" height="44.42" fill="#F4E41E" stroke="#2a2a2a" stroke-width="0.85"/>
<rect x="179.71" y="383.55" width="12.4" height="71.75" fill="#F4E41E" stroke="#2a2a2a" stroke-width="0.85"/>
<polyline fill="none" stroke="#F7783A" stroke-width="1.85" stroke-linejoin="round" points="40.80,451.54 41.77,451.08 43.01,450.50 44.48,449.83 46.12,449.07 47.90,448.24 49.78,447.37 51.71,446.46 53.65,445.53 55.55,444.60 57.37,443.69 59.08,442.81 60.62,441.98 62.05,441.17 63.43,440.37 64.76,439.56 66.06,438.76 67.32,437.96 68.56,437.15 69.76,436.34 70.95,435.53 72.12,434.71 73.27,433.89 74.41,433.07 75.54,432.24 76.64,431.42 77.67,430.63 78.65,429.85 79.60,429.08 80.53,428.31 81.46,427.52 82.40,426.71 83.36,425.87 84.37,424.98 85.44,424.05 86.58,423.05 87.81,421.99 89.12,420.84 90.52,419.61 91.97,418.32 93.48,416.98 95.04,415.59 96.62,414.17 98.23,412.74 99.84,411.30 101.46,409.87 103.06,408.46 104.65,407.09 106.20,405.76 107.73,404.46 109.27,403.16 110.80,401.87 112.33,400.59 113.86,399.31 115.40,398.05 116.93,396.80 118.46,395.55 120.00,394.32 121.53,393.11 123.06,391.91 124.59,390.73 126.12,389.56 127.64,388.41 129.14,387.27 130.65,386.14 132.15,385.03 133.66,383.93 135.18,382.85 136.70,381.77 138.25,380.71 139.80,379.65 141.38,378.61 142.99,377.57 144.61,376.53 146.23,375.49 147.86,374.45 149.50,373.41 151.15,372.39 152.82,371.38 154.52,370.39 156.23,369.43 157.98,368.50 159.76,367.61 161.57,366.76 163.43,365.95 165.40,365.19 167.56,364.44 169.84,363.71 172.21,363.02 174.60,362.35 176.96,361.73 179.26,361.14 181.44,360.60 183.45,360.10 185.23,359.66 186.75,359.27 187.95,358.95"/>
<polyline fill="none" stroke="#6DBE82" stroke-width="1.9" stroke-linejoin="round" points="40.80,441.63 75.54,441.98 87.81,442.49 124.59,442.83 136.86,443.34 173.64,443.85 185.91,444.54"/>
<polyline fill="none" stroke="#0670BE" stroke-width="2.0" stroke-linejoin="round" points="40.80,450.35 75.54,453.59 87.81,454.28 124.59,454.96 136.86,454.96 173.64,454.79 185.91,454.62"/>
<polyline fill="none" stroke="#E2649F" stroke-width="1.8" stroke-linejoin="round" points="40.80,415.32 75.54,430.02 87.81,445.05 124.59,454.79 136.86,455.30 173.64,455.30 185.91,455.30"/>
<path d="M183.81,447.10H188.01M183.81,441.98H188.01M185.91,447.10V441.98" stroke="#6DBE82" stroke-opacity="0.5" stroke-width="0.9" fill="none"/>
<path d="M38.70,417.89H42.90M38.70,412.76H42.90M40.80,417.89V412.76" stroke="#E2649F" stroke-opacity="0.5" stroke-width="0.9" fill="none"/>
<path d="M73.44,435.14H77.64M73.44,424.89H77.64M75.54,435.14V424.89" stroke="#E2649F" stroke-opacity="0.5" stroke-width="0.9" fill="none"/>
<path d="M85.71,447.61H89.91M85.71,442.49H89.91M87.81,447.61V442.49" stroke="#E2649F" stroke-opacity="0.5" stroke-width="0.9" fill="none"/>
<path d="M73.44,438.05H77.64M73.44,425.75H77.64M75.54,438.05V425.75" stroke="#F7783A" stroke-opacity="0.5" stroke-width="0.9" fill="none"/>
<path d="M85.71,424.38H89.91M85.71,415.84H89.91M87.81,424.38V415.84" stroke="#F7783A" stroke-opacity="0.5" stroke-width="0.9" fill="none"/>
<path d="M122.49,393.63H126.69M122.49,388.50H126.69M124.59,393.63V388.50" stroke="#F7783A" stroke-opacity="0.5" stroke-width="0.9" fill="none"/>
<path d="M134.76,388.68H138.96M134.76,378.43H138.96M136.86,388.68V378.43" stroke="#F7783A" stroke-opacity="0.5" stroke-width="0.9" fill="none"/>
<path d="M171.54,367.83H175.74M171.54,354.17H175.74M173.64,367.83V354.17" stroke="#F7783A" stroke-opacity="0.5" stroke-width="0.9" fill="none"/>
<path d="M183.81,368.69H188.01M183.81,350.92H188.01M185.91,368.69V350.92" stroke="#F7783A" stroke-opacity="0.5" stroke-width="0.9" fill="none"/>
<path d="M38.70,441.63H42.90M40.80,439.53V443.73" stroke="#6DBE82" stroke-width="1.1"/><circle cx="40.80" cy="441.63" r="1.3" fill="#6DBE82"/>
<path d="M73.44,441.98H77.64M75.54,439.88V444.08" stroke="#6DBE82" stroke-width="1.1"/><circle cx="75.54" cy="441.98" r="1.3" fill="#6DBE82"/>
<path d="M85.71,442.49H89.91M87.81,440.39V444.59" stroke="#6DBE82" stroke-width="1.1"/><circle cx="87.81" cy="442.49" r="1.3" fill="#6DBE82"/>
<path d="M122.49,442.83H126.69M124.59,440.73V444.93" stroke="#6DBE82" stroke-width="1.1"/><circle cx="124.59" cy="442.83" r="1.3" fill="#6DBE82"/>
<path d="M134.76,443.34H138.96M136.86,441.24V445.44" stroke="#6DBE82" stroke-width="1.1"/><circle cx="136.86" cy="443.34" r="1.3" fill="#6DBE82"/>
<path d="M171.54,443.85H175.74M173.64,441.75V445.95" stroke="#6DBE82" stroke-width="1.1"/><circle cx="173.64" cy="443.85" r="1.3" fill="#6DBE82"/>
<path d="M183.81,444.54H188.01M185.91,442.44V446.64" stroke="#6DBE82" stroke-width="1.1"/><circle cx="185.91" cy="444.54" r="1.3" fill="#6DBE82"/>
<rect x="38.60" y="448.15" width="4.4" height="4.4" fill="#0670BE"/>
<rect x="73.34" y="451.39" width="4.4" height="4.4" fill="#0670BE"/>
<rect x="85.61" y="452.08" width="4.4" height="4.4" fill="#0670BE"/>
<rect x="122.39" y="452.76" width="4.4" height="4.4" fill="#0670BE"/>
<rect x="134.66" y="452.76" width="4.4" height="4.4" fill="#0670BE"/>
<rect x="171.44" y="452.59" width="4.4" height="4.4" fill="#0670BE"/>
<rect x="183.71" y="452.42" width="4.4" height="4.4" fill="#0670BE"/>
<path d="M40.80,412.43L43.60,417.12L38.00,417.12Z" fill="#E2649F"/>
<path d="M75.54,427.12L78.34,431.82L72.74,431.82Z" fill="#E2649F"/>
<path d="M87.81,442.15L90.61,446.85L85.01,446.85Z" fill="#E2649F"/>
<path d="M124.59,451.89L127.39,456.59L121.79,456.59Z" fill="#E2649F"/>
<path d="M136.86,452.40L139.66,457.10L134.06,457.10Z" fill="#E2649F"/>
<path d="M173.64,452.40L176.44,457.10L170.84,457.10Z" fill="#E2649F"/>
<path d="M185.91,452.40L188.71,457.10L183.11,457.10Z" fill="#E2649F"/>
<circle cx="40.80" cy="455.30" r="2.3" fill="#F7783A"/>
<circle cx="75.54" cy="431.90" r="2.3" fill="#F7783A"/>
<circle cx="87.81" cy="420.11" r="2.3" fill="#F7783A"/>
<circle cx="124.59" cy="391.07" r="2.3" fill="#F7783A"/>
<circle cx="136.86" cy="383.55" r="2.3" fill="#F7783A"/>
<circle cx="173.64" cy="361.00" r="2.3" fill="#F7783A"/>
<circle cx="185.91" cy="359.80" r="2.3" fill="#F7783A"/>
<path d="M134.76,415.15H138.96M134.76,406.61H138.96M136.86,415.15V406.61" stroke="#222" stroke-width="0.9" fill="none"/>
<path d="M183.81,386.11H188.01M183.81,380.99H188.01M185.91,386.11V380.99" stroke="#222" stroke-width="0.9" fill="none"/>
</g>
<rect x="30.7" y="338.8" width="177.60000000000002" height="124.19999999999999" fill="none" stroke="#B3B3B3" stroke-width="1"/>
<line x1="40.80" y1="463.0" x2="40.80" y2="465.0" stroke="#555" stroke-width="0.8"/>
<text x="40.80" y="471.80" class="tk" text-anchor="middle">0</text>
<line x1="81.67" y1="463.0" x2="81.67" y2="465.0" stroke="#555" stroke-width="0.8"/>
<text x="81.67" y="471.80" class="tk" text-anchor="middle">20</text>
<line x1="122.55" y1="463.0" x2="122.55" y2="465.0" stroke="#555" stroke-width="0.8"/>
<text x="122.55" y="471.80" class="tk" text-anchor="middle">40</text>
<line x1="163.43" y1="463.0" x2="163.43" y2="465.0" stroke="#555" stroke-width="0.8"/>
<text x="163.43" y="471.80" class="tk" text-anchor="middle">60</text>
<line x1="204.30" y1="463.0" x2="204.30" y2="465.0" stroke="#555" stroke-width="0.8"/>
<text x="204.30" y="471.80" class="tk" text-anchor="middle">80</text>
<line x1="28.7" y1="455.30" x2="30.7" y2="455.30" stroke="#555" stroke-width="0.8"/>
<line x1="208.3" y1="455.30" x2="210.3" y2="455.30" stroke="#555" stroke-width="0.8"/>
<text x="27.90" y="458.20" class="tk" text-anchor="end">0</text>
<text x="211.10" y="458.20" class="tk">0</text>
<line x1="28.7" y1="421.13" x2="30.7" y2="421.13" stroke="#555" stroke-width="0.8"/>
<line x1="208.3" y1="421.13" x2="210.3" y2="421.13" stroke="#555" stroke-width="0.8"/>
<text x="27.90" y="424.03" class="tk" text-anchor="end">20</text>
<text x="211.10" y="424.03" class="tk">20</text>
<line x1="28.7" y1="386.97" x2="30.7" y2="386.97" stroke="#555" stroke-width="0.8"/>
<line x1="208.3" y1="386.97" x2="210.3" y2="386.97" stroke="#555" stroke-width="0.8"/>
<text x="27.90" y="389.87" class="tk" text-anchor="end">40</text>
<text x="211.10" y="389.87" class="tk">40</text>
<line x1="28.7" y1="352.80" x2="30.7" y2="352.80" stroke="#555" stroke-width="0.8"/>
<line x1="208.3" y1="352.80" x2="210.3" y2="352.80" stroke="#555" stroke-width="0.8"/>
<text x="27.90" y="355.70" class="tk" text-anchor="end">60</text>
<text x="211.10" y="355.70" class="tk">60</text>
<text x="119.50" y="481.90" class="ti" text-anchor="middle">Time (h)</text>
<text transform="translate(15.80,400.90) rotate(-90)" class="ti" text-anchor="middle">Concentration (g/L)</text>
<text transform="translate(221.20,400.90) rotate(90)" class="ti" text-anchor="middle">Concentration (g/L)</text>
<text x="8.75" y="496.30" class="cp">(e) LCH with consumption-based acetic acid feed</text>
<clipPath id="cf"><rect x="255.7" y="338.8" width="177.5" height="124.19999999999999"/></clipPath>
<line x1="286.21" y1="338.8" x2="286.21" y2="463.0" stroke="#F0F0F0" stroke-width="0.5"/>
<line x1="327.04" y1="338.8" x2="327.04" y2="463.0" stroke="#F0F0F0" stroke-width="0.5"/>
<line x1="367.86" y1="338.8" x2="367.86" y2="463.0" stroke="#F0F0F0" stroke-width="0.5"/>
<line x1="408.69" y1="338.8" x2="408.69" y2="463.0" stroke="#F0F0F0" stroke-width="0.5"/>
<line x1="255.7" y1="438.22" x2="433.2" y2="438.22" stroke="#F0F0F0" stroke-width="0.5"/>
<line x1="255.7" y1="404.05" x2="433.2" y2="404.05" stroke="#F0F0F0" stroke-width="0.5"/>
<line x1="255.7" y1="369.88" x2="433.2" y2="369.88" stroke="#F0F0F0" stroke-width="0.5"/>
<line x1="265.80" y1="338.8" x2="265.80" y2="463.0" stroke="#E6E6E6" stroke-width="0.6"/>
<line x1="306.62" y1="338.8" x2="306.62" y2="463.0" stroke="#E6E6E6" stroke-width="0.6"/>
<line x1="347.45" y1="338.8" x2="347.45" y2="463.0" stroke="#E6E6E6" stroke-width="0.6"/>
<line x1="388.27" y1="338.8" x2="388.27" y2="463.0" stroke="#E6E6E6" stroke-width="0.6"/>
<line x1="429.10" y1="338.8" x2="429.10" y2="463.0" stroke="#E6E6E6" stroke-width="0.6"/>
<line x1="255.7" y1="455.30" x2="433.2" y2="455.30" stroke="#E6E6E6" stroke-width="0.6"/>
<line x1="255.7" y1="421.13" x2="433.2" y2="421.13" stroke="#E6E6E6" stroke-width="0.6"/>
<line x1="255.7" y1="386.97" x2="433.2" y2="386.97" stroke="#E6E6E6" stroke-width="0.6"/>
<line x1="255.7" y1="352.80" x2="433.2" y2="352.80" stroke="#E6E6E6" stroke-width="0.6"/>
<g clip-path="url(#cf)">
<rect x="355.54" y="425.92" width="12.4" height="29.38" fill="#F4E41E" stroke="#2a2a2a" stroke-width="0.85"/>
<rect x="404.53" y="416.52" width="12.4" height="38.78" fill="#F4E41E" stroke="#2a2a2a" stroke-width="0.85"/>
<polyline fill="none" stroke="#F7783A" stroke-width="1.85" stroke-linejoin="round" points="265.80,455.30 266.28,455.17 266.86,455.03 267.54,454.88 268.29,454.71 269.12,454.51 270.01,454.30 270.95,454.05 271.92,453.77 272.93,453.45 273.95,453.09 274.98,452.68 276.01,452.23 277.07,451.70 278.20,451.12 279.39,450.47 280.62,449.78 281.88,449.05 283.15,448.30 284.42,447.52 285.68,446.73 286.91,445.95 288.10,445.17 289.23,444.41 290.30,443.68 291.28,442.97 292.21,442.27 293.09,441.57 293.92,440.87 294.73,440.17 295.53,439.47 296.31,438.76 297.10,438.05 297.90,437.34 298.73,436.61 299.59,435.88 300.50,435.14 301.44,434.39 302.40,433.62 303.37,432.83 304.36,432.04 305.36,431.24 306.37,430.44 307.40,429.64 308.44,428.85 309.50,428.05 310.57,427.27 311.65,426.50 312.75,425.75 313.84,425.00 314.92,424.26 315.99,423.53 317.06,422.80 318.14,422.08 319.26,421.37 320.40,420.66 321.59,419.96 322.84,419.26 324.16,418.57 325.55,417.88 327.04,417.20 328.64,416.52 330.35,415.83 332.17,415.14 334.07,414.45 336.02,413.76 338.01,413.08 340.01,412.42 342.01,411.78 343.97,411.17 345.89,410.58 347.74,410.03 349.49,409.52 351.16,409.04 352.77,408.60 354.32,408.20 355.84,407.81 357.33,407.46 358.80,407.13 360.27,406.81 361.74,406.51 363.22,406.23 364.73,405.95 366.27,405.68 367.86,405.42 369.48,405.16 371.10,404.92 372.73,404.69 374.36,404.48 376.02,404.28 377.69,404.09 379.38,403.92 381.09,403.75 382.84,403.60 384.61,403.46 386.42,403.32 388.27,403.20 390.25,403.08 392.40,402.99 394.69,402.90 397.04,402.83 399.43,402.77 401.80,402.72 404.09,402.67 406.27,402.63 408.27,402.60 410.06,402.57 411.57,402.54 412.77,402.51"/>
<polyline fill="none" stroke="#6DBE82" stroke-width="1.9" stroke-linejoin="round" points="265.80,439.93 300.50,440.44 312.75,439.75 349.49,439.24 361.74,438.90 398.48,438.22 410.73,436.85"/>
<polyline fill="none" stroke="#0670BE" stroke-width="2.0" stroke-linejoin="round" points="265.80,450.35 300.50,453.59 312.75,453.08 349.49,452.57 361.74,452.57 398.48,452.40 410.73,452.05"/>
<polyline fill="none" stroke="#E2649F" stroke-width="1.8" stroke-linejoin="round" points="265.80,414.30 300.50,421.48 312.75,426.94 349.49,429.68 361.74,431.04 398.48,428.82 410.73,424.89"/>
<path d="M359.64,433.60H363.84M359.64,428.48H363.84M361.74,433.60V428.48" stroke="#E2649F" stroke-opacity="0.5" stroke-width="0.9" fill="none"/>
<path d="M408.63,428.31H412.83M408.63,421.48H412.83M410.73,428.31V421.48" stroke="#E2649F" stroke-opacity="0.5" stroke-width="0.9" fill="none"/>
<path d="M408.63,408.15H412.83M408.63,403.03H412.83M410.73,408.15V403.03" stroke="#F7783A" stroke-opacity="0.5" stroke-width="0.9" fill="none"/>
<path d="M263.70,439.93H267.90M265.80,437.82V442.03" stroke="#6DBE82" stroke-width="1.1"/><circle cx="265.80" cy="439.93" r="1.3" fill="#6DBE82"/>
<path d="M298.40,440.44H302.60M300.50,438.34V442.54" stroke="#6DBE82" stroke-width="1.1"/><circle cx="300.50" cy="440.44" r="1.3" fill="#6DBE82"/>
<path d="M310.65,439.75H314.85M312.75,437.65V441.85" stroke="#6DBE82" stroke-width="1.1"/><circle cx="312.75" cy="439.75" r="1.3" fill="#6DBE82"/>
<path d="M347.39,439.24H351.59M349.49,437.14V441.34" stroke="#6DBE82" stroke-width="1.1"/><circle cx="349.49" cy="439.24" r="1.3" fill="#6DBE82"/>
<path d="M359.64,438.90H363.84M361.74,436.80V441.00" stroke="#6DBE82" stroke-width="1.1"/><circle cx="361.74" cy="438.90" r="1.3" fill="#6DBE82"/>
<path d="M396.38,438.22H400.58M398.48,436.12V440.32" stroke="#6DBE82" stroke-width="1.1"/><circle cx="398.48" cy="438.22" r="1.3" fill="#6DBE82"/>
<path d="M408.63,436.85H412.83M410.73,434.75V438.95" stroke="#6DBE82" stroke-width="1.1"/><circle cx="410.73" cy="436.85" r="1.3" fill="#6DBE82"/>
<rect x="263.60" y="448.15" width="4.4" height="4.4" fill="#0670BE"/>
<rect x="298.30" y="451.39" width="4.4" height="4.4" fill="#0670BE"/>
<rect x="310.55" y="450.88" width="4.4" height="4.4" fill="#0670BE"/>
<rect x="347.29" y="450.37" width="4.4" height="4.4" fill="#0670BE"/>
<rect x="359.54" y="450.37" width="4.4" height="4.4" fill="#0670BE"/>
<rect x="396.28" y="450.20" width="4.4" height="4.4" fill="#0670BE"/>
<rect x="408.53" y="449.85" width="4.4" height="4.4" fill="#0670BE"/>
<path d="M265.80,411.40L268.60,416.10L263.00,416.10Z" fill="#E2649F"/>
<path d="M300.50,418.58L303.30,423.28L297.70,423.28Z" fill="#E2649F"/>
<path d="M312.75,424.04L315.55,428.74L309.95,428.74Z" fill="#E2649F"/>
<path d="M349.49,426.78L352.29,431.48L346.69,431.48Z" fill="#E2649F"/>
<path d="M361.74,428.14L364.54,432.84L358.94,432.84Z" fill="#E2649F"/>
<path d="M398.48,425.92L401.28,430.62L395.68,430.62Z" fill="#E2649F"/>
<path d="M410.73,421.99L413.53,426.69L407.93,426.69Z" fill="#E2649F"/>
<circle cx="265.80" cy="455.30" r="2.3" fill="#F7783A"/>
<circle cx="300.50" cy="433.43" r="2.3" fill="#F7783A"/>
<circle cx="312.75" cy="424.89" r="2.3" fill="#F7783A"/>
<circle cx="349.49" cy="409.52" r="2.3" fill="#F7783A"/>
<rect x="359.84" y="401.47" width="3.8" height="3.8" fill="#F7783A"/>
<circle cx="398.48" cy="401.83" r="2.3" fill="#F7783A"/>
<circle cx="410.73" cy="405.59" r="2.3" fill="#F7783A"/>
<path d="M359.64,428.65H363.84M359.64,423.18H363.84M361.74,428.65V423.18" stroke="#222" stroke-width="0.9" fill="none"/>
<path d="M408.63,420.28H412.83M408.63,412.76H412.83M410.73,420.28V412.76" stroke="#222" stroke-width="0.9" fill="none"/>
</g>
<rect x="255.7" y="338.8" width="177.5" height="124.19999999999999" fill="none" stroke="#B3B3B3" stroke-width="1"/>
<line x1="265.80" y1="463.0" x2="265.80" y2="465.0" stroke="#555" stroke-width="0.8"/>
<text x="265.80" y="471.80" class="tk" text-anchor="middle">0</text>
<line x1="306.62" y1="463.0" x2="306.62" y2="465.0" stroke="#555" stroke-width="0.8"/>
<text x="306.62" y="471.80" class="tk" text-anchor="middle">20</text>
<line x1="347.45" y1="463.0" x2="347.45" y2="465.0" stroke="#555" stroke-width="0.8"/>
<text x="347.45" y="471.80" class="tk" text-anchor="middle">40</text>
<line x1="388.27" y1="463.0" x2="388.27" y2="465.0" stroke="#555" stroke-width="0.8"/>
<text x="388.27" y="471.80" class="tk" text-anchor="middle">60</text>
<line x1="429.10" y1="463.0" x2="429.10" y2="465.0" stroke="#555" stroke-width="0.8"/>
<text x="429.10" y="471.80" class="tk" text-anchor="middle">80</text>
<line x1="253.7" y1="455.30" x2="255.7" y2="455.30" stroke="#555" stroke-width="0.8"/>
<line x1="433.2" y1="455.30" x2="435.2" y2="455.30" stroke="#555" stroke-width="0.8"/>
<text x="252.90" y="458.20" class="tk" text-anchor="end">0</text>
<text x="436.00" y="458.20" class="tk">0</text>
<line x1="253.7" y1="421.13" x2="255.7" y2="421.13" stroke="#555" stroke-width="0.8"/>
<line x1="433.2" y1="421.13" x2="435.2" y2="421.13" stroke="#555" stroke-width="0.8"/>
<text x="252.90" y="424.03" class="tk" text-anchor="end">20</text>
<text x="436.00" y="424.03" class="tk">20</text>
<line x1="253.7" y1="386.97" x2="255.7" y2="386.97" stroke="#555" stroke-width="0.8"/>
<line x1="433.2" y1="386.97" x2="435.2" y2="386.97" stroke="#555" stroke-width="0.8"/>
<text x="252.90" y="389.87" class="tk" text-anchor="end">40</text>
<text x="436.00" y="389.87" class="tk">40</text>
<line x1="253.7" y1="352.80" x2="255.7" y2="352.80" stroke="#555" stroke-width="0.8"/>
<line x1="433.2" y1="352.80" x2="435.2" y2="352.80" stroke="#555" stroke-width="0.8"/>
<text x="252.90" y="355.70" class="tk" text-anchor="end">60</text>
<text x="436.00" y="355.70" class="tk">60</text>
<text x="344.45" y="481.90" class="ti" text-anchor="middle">Time (h)</text>
<text transform="translate(240.80,400.90) rotate(-90)" class="ti" text-anchor="middle">Concentration (g/L)</text>
<text transform="translate(446.10,400.90) rotate(90)" class="ti" text-anchor="middle">Concentration (g/L)</text>
<text x="235.75" y="496.30" class="cp">(f) LCH with co-feed of continuous LCH and consumption-</text>
<text x="235.75" y="506.50" class="cp">based acetic acid feed</text>
<rect x="6.25" y="511.25" width="453.25" height="33.25" fill="none" stroke="#555" stroke-width="1"/>
<line x1="40" y1="528.5" x2="53" y2="528.5" stroke="#F7783A" stroke-width="1.2"/>
<circle cx="46.5" cy="528.5" r="1.6" fill="#F7783A"/>
<line x1="122.25" y1="528.5" x2="135.5" y2="528.5" stroke="#0670BE" stroke-width="1.2"/>
<rect x="127.275" y="526.9" width="3.2" height="3.2" fill="#0670BE"/>
<line x1="205.25" y1="528.5" x2="218.5" y2="528.5" stroke="#E2649F" stroke-width="1.2"/>
<path d="M211.875,526.5L213.775,529.8L209.975,529.8Z" fill="#E2649F"/>
<line x1="288" y1="528.5" x2="301.5" y2="528.5" stroke="#6DBE82" stroke-width="1.2"/>
<path d="M293.25,528.5H296.25M294.75,527.0V530.0" stroke="#6DBE82" stroke-width="0.9"/>
<rect x="370.1" y="522" width="12.6" height="12.5" fill="#F4E41E" stroke="#333" stroke-width="0.8"/>
<text x="63" y="531.1" class="cp">Biomass</text>
<text x="146" y="531.1" class="cp">Glucose</text>
<text x="229" y="531.1" class="cp">Xylose</text>
<text x="311.5" y="531.1" class="cp">Acetic acid</text>
<text x="392.8" y="531.1" class="cp">Lipid</text>
</svg></body></html>
